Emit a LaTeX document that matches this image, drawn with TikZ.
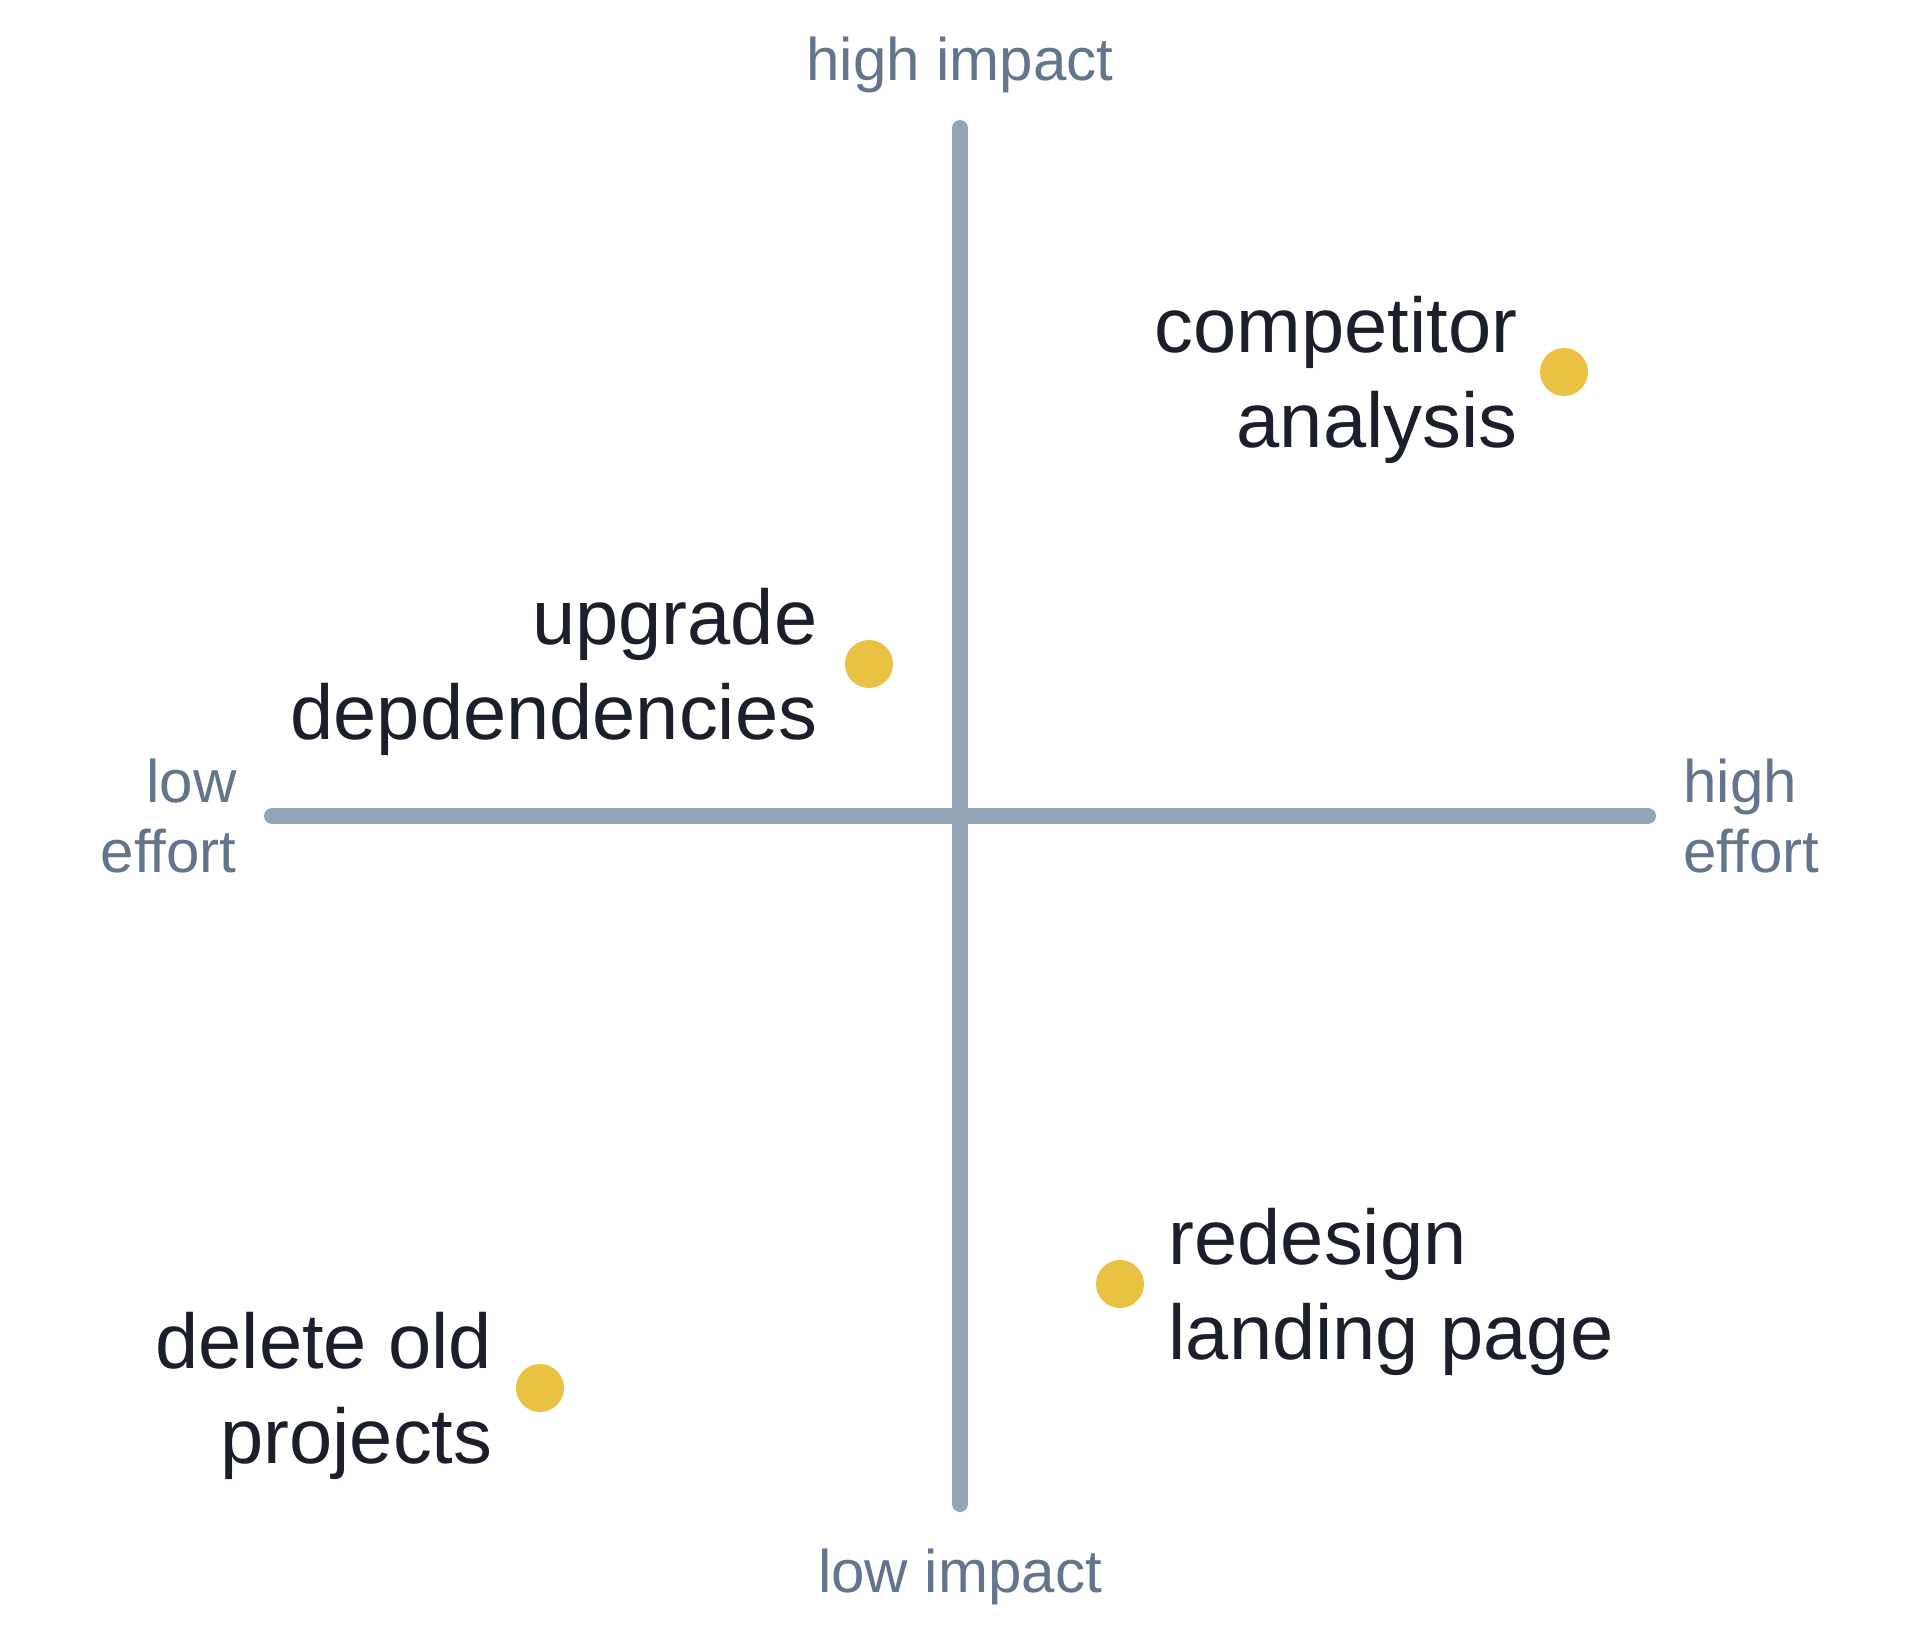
\documentclass[tikz,border=0pt]{standalone}
\usepackage{fontspec}
\setmainfont{Liberation Sans}
\usetikzlibrary{positioning}
\definecolor{axisgray}{HTML}{94A3B8}
\definecolor{labelgray}{HTML}{64748B}
\definecolor{taskink}{HTML}{1B1F2B}
\definecolor{dotyellow}{HTML}{E9C143}
\tikzset{
  axisline/.style={line width=0.32cm, line cap=round, draw=axisgray},
  axislabel/.style={text=labelgray, font=\fontsize{34.2}{39.7}\selectfont, inner sep=0},
  task/.style={text=taskink, font=\fontsize{44.2}{54.4}\selectfont, inner sep=0},
  taskdot/.style={circle, fill=dotyellow, minimum size=0.96cm, inner sep=0}
}

\begin{document}
\begin{tikzpicture}[x=0.02cm, y=-0.02cm]
\useasboundingbox (0, 0) rectangle (1920, 1632);
\coordinate (impHi) at (960, 128);
\coordinate (impLo) at (960, 1504);
\coordinate (effLo) at (272, 816);
\coordinate (effHi) at (1648, 816);
\draw [axisline] (impHi) -- (impLo);
\draw [axisline] (effLo) -- (effHi);
\node [axislabel, above=0.7cm of impHi] (impHiLabel) {high impact};
\node [axislabel, below=0.9cm of impLo] (impLoLabel) {low impact};
\node [axislabel, align=right, left=0.7cm of effLo] (effLoLabel) {low\\effort};
\node [axislabel, align=left, right=0.7cm of effHi] (effHiLabel) {high\\effort};
\node [taskdot] (competitor) at (1564, 372) {};
\node [taskdot] (upgrade) at (869, 664) {};
\node [taskdot] (redesign) at (1120, 1284) {};
\node [taskdot] (delete) at (540, 1388) {};
\node [task, align=right, left=0.44cm of competitor, yshift=-0.16cm] (competitorLabel) {competitor\\analysis};
\node [task, align=right, left=0.54cm of upgrade, yshift=-0.16cm] (upgradeLabel) {upgrade\\depdendencies};
\node [task, align=left, right=0.48cm of redesign, yshift=-0.16cm] (redesignLabel) {redesign\\landing page};
\node [task, align=right, left=0.46cm of delete, yshift=-0.16cm] (deleteLabel) {delete old\\projects};
\end{tikzpicture}
\end{document}
